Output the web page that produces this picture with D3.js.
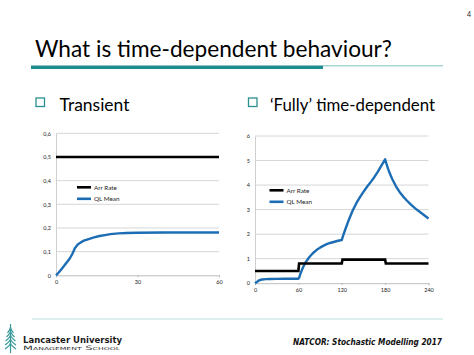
<!DOCTYPE html>
<html><head><meta charset="utf-8">
<script src="https://cdn.jsdelivr.net/npm/d3@7"></script>
<style>body{margin:0;background:#fff}svg{display:block}</style>
</head><body>
<script>
// ---- data ----
const leftXTicks = [0, 30, 60];
const leftYTicks = [0, 0.1, 0.2, 0.3, 0.4, 0.5, 0.6];
const leftArrT = [0, 60];
const leftArrV = [0.5, 0.5];
const leftQLT = [0,1,2,3,4,5,6,7,8,9,10,12,14,16,18,20,23,26,30,40,50,60];
const leftQLV = [0,0.012,0.026,0.04,0.055,0.07,0.09,0.115,0.13,0.138,0.145,0.153,0.16,0.166,0.17,0.174,0.177,0.179,0.18,0.181,0.181,0.181];

const rightXTicks = [0, 60, 120, 180, 240];
const rightYTicks = [0, 1, 2, 3, 4, 5, 6];
const rightArrT = [0, 60, 61, 120, 121, 180, 181, 240];
const rightArrV = [0.5, 0.5, 0.8, 0.8, 0.96, 0.96, 0.8, 0.8];
const rightQLT = [0,2,4,6,8,10,15,20,30,40,60,61,63,65,67,70,75,80,85,90,95,100,105,110,115,120,122,125,130,135,140,145,150,155,160,165,170,175,180,182,184,186,188,190,195,200,205,210,215,220,225,230,235,240];
const rightQLV = [0,0.04,0.08,0.12,0.14,0.15,0.165,0.172,0.178,0.18,0.18,0.22,0.4,0.55,0.68,0.85,1.06,1.22,1.35,1.45,1.53,1.6,1.65,1.69,1.73,1.76,1.95,2.2,2.6,2.95,3.25,3.5,3.72,3.93,4.12,4.32,4.55,4.8,5.05,4.85,4.67,4.51,4.37,4.24,3.95,3.72,3.53,3.37,3.22,3.09,2.97,2.86,2.75,2.64];

const seriesNames = ["Arr Rate", "QL Mean"];
const seriesColors = ["#000000", "#1c6db3"];

const W = 474, H = 355;
const svg = d3.select("body").append("svg").attr("width", W).attr("height", H);
const FONT = "Lato, 'Open Sans', sans-serif";

// page number
svg.append("text").attr("x", 467).attr("y", 17).attr("font-family", FONT)
  .attr("font-size", 7).attr("fill", "#222").text("4");

// title
svg.append("text").attr("x", 35).attr("y", 57).attr("font-family", FONT)
  .attr("font-size", 22.5).attr("fill", "#000")
  .attr("textLength", 357).attr("lengthAdjust", "spacingAndGlyphs")
  .text("What is time-dependent behaviour?");
svg.append("rect").attr("x", 31).attr("y", 65.5).attr("width", 292).attr("height", 3.5).attr("fill", "#1f8c8d");
svg.append("line").attr("x1", 323).attr("x2", 443).attr("y1", 65.8).attr("y2", 65.8)
  .attr("stroke", "#5fb0b0").attr("stroke-width", 0.8);

// bullets
function bullet(x, tx, label, len) {
  svg.append("rect").attr("x", x).attr("y", 98).attr("width", 8.5).attr("height", 8.5)
    .attr("fill", "none").attr("stroke", "#2a9090").attr("stroke-width", 1.3);
  svg.append("text").attr("x", tx).attr("y", 110.5).attr("font-family", FONT)
    .attr("font-size", 17.5).attr("fill", "#000")
    .attr("textLength", len).attr("lengthAdjust", "spacingAndGlyphs").text(label);
}
bullet(36, 59.5, "Transient", 70);
bullet(248.5, 270, "\u2018Fully\u2019 time-dependent", 165);

// chart builder
function chart(cfg) {
  const x = d3.scaleLinear().domain(cfg.xDomain).range([cfg.x0, cfg.x1]);
  const y = d3.scaleLinear().domain(cfg.yDomain).range([cfg.y0, cfg.y1]);
  const g = svg.append("g");
  g.append("g").selectAll("line").data(cfg.yTicks.filter(d => d !== 0)).join("line")
    .attr("x1", cfg.x0).attr("x2", cfg.x1).attr("y1", d => y(d)).attr("y2", d => y(d))
    .attr("stroke", "#d6d6d6").attr("stroke-width", 1);
  const ya = g.append("g").attr("transform", `translate(${cfg.x0},0)`)
    .call(d3.axisLeft(y).tickValues(cfg.yTicks).tickSize(0).tickPadding(cfg.yPad).tickFormat(cfg.yFmt));
  ya.select(".domain").attr("stroke", "#cfcfcf");
  ya.selectAll("text").attr("font-family", FONT).attr("font-size", 5.5).attr("fill", "#222");
  const xa = g.append("g").attr("transform", `translate(0,${cfg.y0})`)
    .call(d3.axisBottom(x).tickValues(cfg.xTicks).tickSize(2).tickPadding(3).tickFormat(d3.format("d")));
  xa.select(".domain").attr("stroke", "#bdbdbd");
  xa.selectAll(".tick line").attr("stroke", "#bdbdbd");
  xa.selectAll("text").attr("font-family", FONT).attr("font-size", 5.5).attr("fill", "#222");

  const line = d3.line().x(d => x(d[0])).y(d => y(d[1]));
  const arr = cfg.arrT.map((t, i) => [t, cfg.arrV[i]]);
  const ql = cfg.qlT.map((t, i) => [t, cfg.qlV[i]]);
  g.append("path").datum(ql).attr("d", line).attr("fill", "none")
    .attr("stroke", seriesColors[1]).attr("stroke-width", 2.4).attr("stroke-linejoin", "round");
  g.append("path").datum(arr).attr("d", line).attr("fill", "none")
    .attr("stroke", seriesColors[0]).attr("stroke-width", 2.6);

  seriesNames.forEach((n, i) => {
    const ly = cfg.legY + i * 11.5;
    g.append("line").attr("x1", cfg.legX).attr("x2", cfg.legX + 14).attr("y1", ly).attr("y2", ly)
      .attr("stroke", seriesColors[i]).attr("stroke-width", 2.6);
    g.append("text").attr("x", cfg.legX + 17).attr("y", ly + 2.2).attr("font-family", FONT)
      .attr("font-size", 6.3).attr("fill", "#222").text(n);
  });
}

const commaFmt = d => d === 0 ? "0" : d3.format(".1f")(d).replace(".", ",");

chart({
  xDomain: [0, 60], yDomain: [0, 0.6], x0: 56, x1: 219, y0: 275.3, y1: 133.3,
  xTicks: leftXTicks, yTicks: leftYTicks, yFmt: commaFmt, yPad: 5,
  arrT: leftArrT, arrV: leftArrV, qlT: leftQLT, qlV: leftQLV,
  legX: 77, legY: 187.3
});
chart({
  xDomain: [0, 240], yDomain: [0, 6], x0: 255, x1: 428.5, y0: 283.2, y1: 136,
  xTicks: rightXTicks, yTicks: rightYTicks, yFmt: d3.format("d"), yPad: 5,
  arrT: rightArrT, arrV: rightArrV, qlT: rightQLT, qlV: rightQLV,
  legX: 269.5, legY: 190.3
});

// footer
svg.append("line").attr("x1", 32).attr("x2", 443).attr("y1", 319).attr("y2", 319)
  .attr("stroke", "#a9d6d6").attr("stroke-width", 0.8);
const logo = svg.append("g").attr("stroke", "#3a9a9a").attr("fill", "none").attr("stroke-width", 1.2);
logo.append("line").attr("x1", 10.5).attr("y1", 324).attr("x2", 10.5).attr("y2", 353);
[[327,3],[331,4],[335,5],[339,5.5],[343,5.5]].forEach(([yy, w]) => {
  logo.append("path").attr("d", `M${10.5 - w},${yy + 6} Q10.5,${yy + 2} 10.5,${yy} Q10.5,${yy + 2} ${10.5 + w},${yy + 6}`);
});
svg.append("text").attr("x", 23).attr("y", 342.5).attr("font-family", "'DejaVu Sans', sans-serif")
  .attr("font-weight", "bold").attr("font-size", 8.5).attr("fill", "#1a1a1a")
  .attr("textLength", 99).attr("lengthAdjust", "spacingAndGlyphs").text("Lancaster University");
svg.append("text").attr("x", 23).attr("y", 349.5).attr("font-family", "'DejaVu Sans', sans-serif")
  .attr("font-size", 6).attr("fill", "#333").attr("font-variant", "small-caps")
  .attr("textLength", 97).attr("lengthAdjust", "spacingAndGlyphs").text("Management School");
svg.append("text").attr("x", 293).attr("y", 345).attr("font-family", "'DejaVu Sans', sans-serif")
  .attr("font-weight", "bold").attr("font-style", "italic").attr("font-size", 8.3).attr("fill", "#111")
  .attr("textLength", 149).attr("lengthAdjust", "spacingAndGlyphs").text("NATCOR: Stochastic Modelling 2017");
</script>
</body></html>
